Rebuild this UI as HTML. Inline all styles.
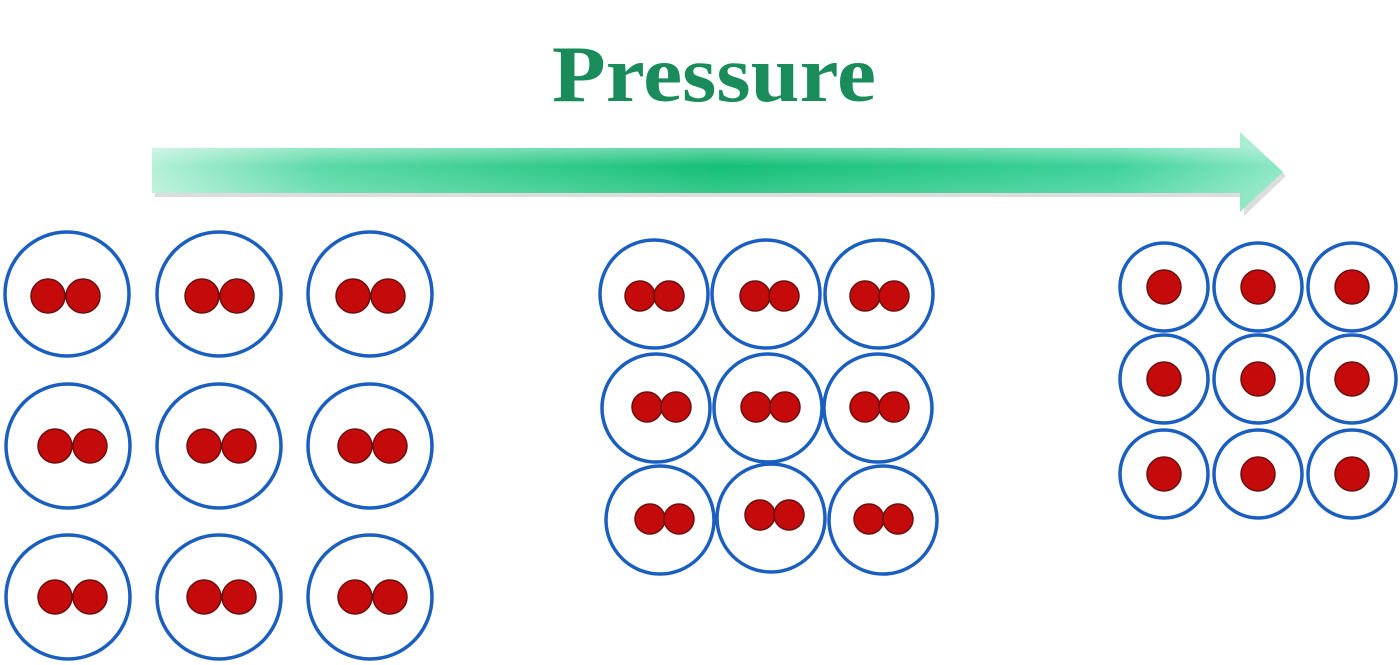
<!DOCTYPE html>
<html><head><meta charset="utf-8"><style>html,body{margin:0;padding:0;background:#fff}svg{display:block}</style></head>
<body>
<svg width="1400" height="665" viewBox="0 0 1400 665" xmlns="http://www.w3.org/2000/svg">
<defs>
<linearGradient id="g" x1="152" y1="0" x2="1285" y2="0" gradientUnits="userSpaceOnUse">
<stop offset="0" stop-color="#b4f0d8"/>
<stop offset="0.15" stop-color="#5ad9a6"/>
<stop offset="0.5" stop-color="#14bf76"/>
<stop offset="0.85" stop-color="#3fd29a"/>
<stop offset="1" stop-color="#8ee8c6"/>
</linearGradient>
<linearGradient id="v" x1="0" y1="148" x2="0" y2="193" gradientUnits="userSpaceOnUse">
<stop offset="0" stop-color="#fff" stop-opacity="0.35"/>
<stop offset="0.4" stop-color="#fff" stop-opacity="0"/>
<stop offset="1" stop-color="#fff" stop-opacity="0.15"/>
</linearGradient>
</defs>
<text x="714" y="101" text-anchor="middle" font-family="Liberation Serif, serif" font-weight="bold" font-size="80" fill="#1a8c5c" textLength="324" lengthAdjust="spacingAndGlyphs">Pressure</text>
<path d="M155 152 H1244 V136 L1286 176 L1244 216 V197 H155 Z" fill="#bbb" opacity="0.5"/>
<path d="M152 148 H1240 V132 L1283 172 L1240 212 V193 H152 Z" fill="url(#g)"/>
<path d="M152 148 H1240 V132 L1283 172 L1240 212 V193 H152 Z" fill="url(#v)"/>
<g fill="#fff" stroke="#1a5fc0" stroke-width="3.5">
<circle cx="67" cy="294" r="62"/><circle cx="219" cy="294" r="62"/><circle cx="370" cy="294" r="62"/>
<circle cx="68" cy="446" r="62"/><circle cx="219" cy="446" r="62"/><circle cx="370" cy="446" r="62"/>
<circle cx="68" cy="597" r="62"/><circle cx="219" cy="597" r="62"/><circle cx="370" cy="597" r="62"/>
<circle cx="654" cy="294" r="54"/><circle cx="766" cy="294" r="54"/><circle cx="879" cy="294" r="54"/>
<circle cx="656" cy="408" r="54"/><circle cx="768" cy="408" r="54"/><circle cx="878" cy="408" r="54"/>
<circle cx="660" cy="520" r="54"/><circle cx="771" cy="518" r="54"/><circle cx="883" cy="520" r="54"/>
<circle cx="1164" cy="287" r="44"/><circle cx="1258" cy="287" r="44"/><circle cx="1352" cy="287" r="44"/>
<circle cx="1164" cy="379" r="44"/><circle cx="1258" cy="379" r="44"/><circle cx="1352" cy="379" r="44"/>
<circle cx="1164" cy="474" r="44"/><circle cx="1258" cy="474" r="44"/><circle cx="1352" cy="474" r="44"/>
</g>
<g fill="#c40a0a" stroke="#6a1010" stroke-width="1.5">
<circle cx="48" cy="296" r="17"/><circle cx="83" cy="296" r="17"/>
<circle cx="202" cy="296" r="17"/><circle cx="237" cy="296" r="17"/>
<circle cx="353" cy="296" r="17"/><circle cx="388" cy="296" r="17"/>
<circle cx="55" cy="446" r="17"/><circle cx="90" cy="446" r="17"/>
<circle cx="204" cy="446" r="17"/><circle cx="239" cy="446" r="17"/>
<circle cx="355" cy="446" r="17"/><circle cx="390" cy="446" r="17"/>
<circle cx="55" cy="597" r="17"/><circle cx="90" cy="597" r="17"/>
<circle cx="204" cy="597" r="17"/><circle cx="239" cy="597" r="17"/>
<circle cx="355" cy="597" r="17"/><circle cx="390" cy="597" r="17"/>
<circle cx="640" cy="296" r="15"/><circle cx="669" cy="296" r="15"/>
<circle cx="755" cy="296" r="15"/><circle cx="784" cy="296" r="15"/>
<circle cx="865" cy="296" r="15"/><circle cx="894" cy="296" r="15"/>
<circle cx="647" cy="407" r="15"/><circle cx="676" cy="407" r="15"/>
<circle cx="756" cy="407" r="15"/><circle cx="785" cy="407" r="15"/>
<circle cx="865" cy="407" r="15"/><circle cx="894" cy="407" r="15"/>
<circle cx="650" cy="519" r="15"/><circle cx="679" cy="519" r="15"/>
<circle cx="760" cy="515" r="15"/><circle cx="789" cy="515" r="15"/>
<circle cx="869" cy="519" r="15"/><circle cx="898" cy="519" r="15"/>
<circle cx="1164" cy="287" r="17"/><circle cx="1258" cy="287" r="17"/><circle cx="1352" cy="287" r="17"/>
<circle cx="1164" cy="379" r="17"/><circle cx="1258" cy="379" r="17"/><circle cx="1352" cy="379" r="17"/>
<circle cx="1164" cy="474" r="17"/><circle cx="1258" cy="474" r="17"/><circle cx="1352" cy="474" r="17"/>
</g>
</svg>
</body></html>
